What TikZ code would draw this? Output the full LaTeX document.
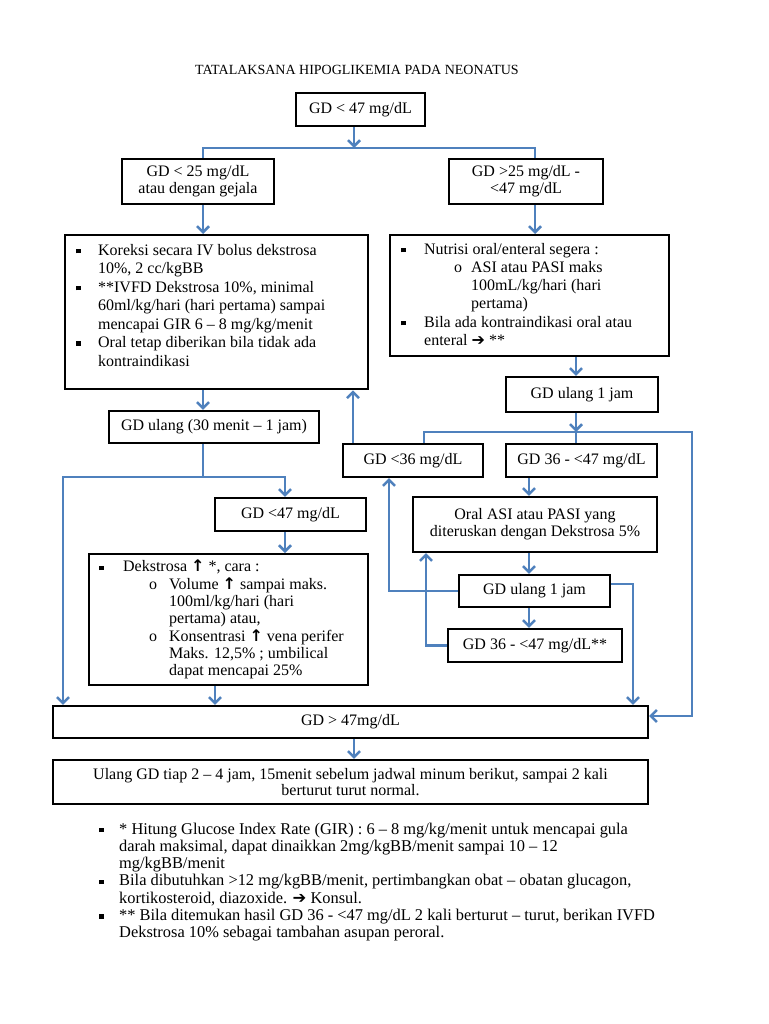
\documentclass[tikz,border=0pt]{standalone}
\usepackage{fontspec}
\setmainfont{Liberation Serif}
\newfontfamily\symfont{DejaVu Sans}
\usepackage{tikz}
\usetikzlibrary{arrows.meta}
\definecolor{flowblue}{RGB}{79,129,189}
\newcommand{\sq}[1][22pt]{\makebox[#1][l]{\rule[1.8pt]{4.5pt}{4.5pt}}}
\newcommand{\ci}[1][20pt]{\makebox[#1][l]{o}}
\newcommand{\upar}{{\symfont\bfseries ↑}}
\newcommand{\rar}{{\symfont ➔}}

\begin{document}
\begin{tikzpicture}[x=1pt, y=-1pt,
	box/.style={draw, line width=2.3pt, align=center, inner sep=0pt, font=\fontsize{16pt}{17pt}\selectfont},
	listbox/.style={draw, line width=2.3pt, inner sep=0pt, anchor=north west, font=\fontsize{16pt}{18.5pt}\selectfont},
	conn/.style={flowblue, line width=2.5pt},
	arr/.style={conn, -{Straight Barb[length=6pt,width=12pt]}}]
				\path[fill=white] (0,0) rectangle (768,1024);
				
				\node[font=\fontsize{14pt}{16pt}\selectfont] (title) at (357,70) {TATALAKSANA HIPOGLIKEMIA PADA NEONATUS};
				
				\node[box, minimum width=129pt, minimum height=33pt] (top) at (360.5,109.5) {GD < 47 mg/dL};
				\node[box, minimum width=152pt, minimum height=45pt] (lt) at (198,181.5) {GD < 25 mg/dL\\atau dengan gejala};
				\node[box, minimum width=154pt, minimum height=45pt] (rt) at (526,181.5) {GD >25 mg/dL -\\<47 mg/dL};
				
				\node[listbox] (lbig) at (64,234) {\parbox[t][154pt][t]{303pt}{\vspace*{9pt}\leftskip=11pt
					\sq Koreksi secara IV bolus dekstrosa\\
					\hspace*{22pt}10\%, 2 cc/kgBB\\
					\sq **IVFD Dekstrosa 10\%, minimal\\
					\hspace*{22pt}60ml/kg/hari (hari pertama) sampai\\
					\hspace*{22pt}mencapai GIR 6 – 8 mg/kg/menit\\
					\sq Oral tetap diberikan bila tidak ada\\
					\hspace*{22pt}kontraindikasi}};
				\node[listbox, font=\fontsize{16pt}{18.2pt}\selectfont] (rbig) at (389,234) {\parbox[t][121pt][t]{279pt}{\vspace*{8pt}\leftskip=11pt
					\sq[23pt]Nutrisi oral/enteral segera :\\
					\hspace*{53pt}\ci[17pt]ASI atau PASI maks\\
					\hspace*{70pt}100mL/kg/hari (hari\\
					\hspace*{70pt}pertama)\\
					\sq[23pt]Bila ada kontraindikasi oral atau\\
					\hspace*{23pt}enteral \rar{} **}};
				
				\node[box, minimum width=152pt, minimum height=35pt] (ulang1) at (582,394.5) {GD ulang 1 jam};
				\node[box, minimum width=210pt, minimum height=32pt] (ulang30) at (214,427) {GD ulang (30 menit – 1 jam)};
				\node[box, minimum width=140pt, minimum height=33pt] (lt36) at (413,460.5) {GD <36 mg/dL};
				\node[box, minimum width=151pt, minimum height=33pt] (r36) at (581.5,460.5) {GD 36 - <47 mg/dL};
				\node[box, minimum width=151pt, minimum height=33pt] (lt47) at (290.5,514.5) {GD <47 mg/dL};
				\node[box, minimum width=244pt, minimum height=55pt] (oral) at (535,524.5) {Oral ASI atau PASI yang\\diteruskan dengan Dekstrosa 5\%};
				
				\node[listbox, font=\fontsize{16pt}{17.3pt}\selectfont] (dek) at (88,553) {\parbox[t][131pt][t]{279pt}{\vspace*{6pt}\leftskip=10pt
					\sq[24pt]Dekstrosa \upar{} *, cara :\\
					\hspace*{50pt}\ci Volume \upar{} sampai maks.\\
					\hspace*{70pt}100ml/kg/hari (hari\\
					\hspace*{70pt}pertama) atau,\\
					\hspace*{50pt}\ci Konsentrasi \upar{} vena perifer\\
					\hspace*{70pt}Maks. 12,5\% ; umbilical\\
					\hspace*{70pt}dapat mencapai 25\%}};
				
				\node[box, minimum width=151pt, minimum height=32pt] (ulang2) at (534.5,591) {GD ulang 1 jam};
				\node[box, minimum width=174pt, minimum height=33pt] (r36b) at (535,645.5) {GD 36 - <47 mg/dL**};
				
				\node[box, minimum width=595pt, minimum height=32pt] (gt47) at (350.5,722) {GD > 47mg/dL};
				\node[box, minimum width=595pt, minimum height=44pt, font=\fontsize{16pt}{16pt}\selectfont] (final) at (350.5,782) {Ulang GD tiap 2 – 4 jam, 15menit sebelum jadwal minum berikut, sampai 2 kali\\berturut turut normal.};
				
				\node[anchor=base west, inner sep=0pt, font=\fontsize{16.4pt}{17.3pt}\selectfont] (notes) at (99,834) {\parbox[t]{650pt}{
					\sq[20pt]* Hitung Glucose Index Rate (GIR) : 6 – 8 mg/kg/menit untuk mencapai gula\\
					\hspace*{20pt}darah maksimal, dapat dinaikkan 2mg/kgBB/menit sampai 10 – 12\\
					\hspace*{20pt}mg/kgBB/menit\\
					\sq[20pt]Bila dibutuhkan >12 mg/kgBB/menit, pertimbangkan obat – obatan glucagon,\\
					\hspace*{20pt}kortikosteroid, diazoxide. \rar{} Konsul.\\
					\sq[20pt]** Bila ditemukan hasil GD 36 - <47 mg/dL 2 kali berturut – turut, berikan IVFD\\
					\hspace*{20pt}Dekstrosa 10\% sebagai tambahan asupan peroral.}};
				
				\coordinate (j1) at (354,148);
				\coordinate (la) at (203,148);
				\coordinate (ra) at (535,148);
				\coordinate (j2) at (576,432);
				\coordinate (b1) at (424,432);
				\coordinate (b2) at (692,432);
				\coordinate (j3) at (203,477);
				\coordinate (l1) at (63,477);
				\coordinate (l2) at (285,477);
				\coordinate (u1) at (353,416);
				\coordinate (d1) at (215,695);
				\coordinate (m1) at (529,600);
				\coordinate (k1) at (389,530);
				\coordinate (k2) at (426,600);
				\coordinate (k3) at (633,650);
				
				\draw[arr] (top.south -| j1) -- (j1);
				\draw[conn] (lt.north -| la) -- (la) -- (ra) -- (rt.north -| ra);
				\draw[arr] (lt.south -| la) -- (lbig.north -| la);
				\draw[arr] (rt.south -| ra) -- (rbig.north -| ra);
				
				\draw[arr] (rbig.south -| j2) -- (ulang1.north -| j2);
				\draw[arr] (ulang1.south -| j2) -- (j2);
				\draw[conn] (j2) -- (r36.north -| j2);
				\draw[arr] (lt36.north -| b1) -- (b1) -- (b2) |- ([yshift=6pt]gt47.east);
				\draw[arr] (lt36.north -| u1) -- (lbig.south -| u1);
				
				\draw[arr] (lbig.south -| la) -- (ulang30.north -| la);
				\draw[conn] (ulang30.south -| la) -- (j3);
				\draw[arr] (j3) -- (l1) -- (gt47.north -| l1);
				\draw[arr] (j3) -- (l2) -- (lt47.north -| l2);
				\draw[arr] (lt47.south -| l2) -- (dek.north -| l2);
				\draw[arr] (dek.south -| d1) -- (gt47.north -| d1);
				
				\draw[arr] (r36.south -| m1) -- (oral.north -| m1);
				\draw[arr] (oral.south -| m1) -- (ulang2.north -| m1);
				\draw[arr] (ulang2.south -| m1) -- (r36b.north -| m1);
				\draw[arr] (ulang2.west) -| (lt36.south -| k1);
				\draw[arr] (r36b.west) -| (oral.south -| k2);
				\draw[arr] ([yshift=7pt]ulang2.east) -| (gt47.north -| k3);
				
				\draw[arr] (gt47.south -| j1) -- (final.north -| j1);
\end{tikzpicture}
\end{document}
